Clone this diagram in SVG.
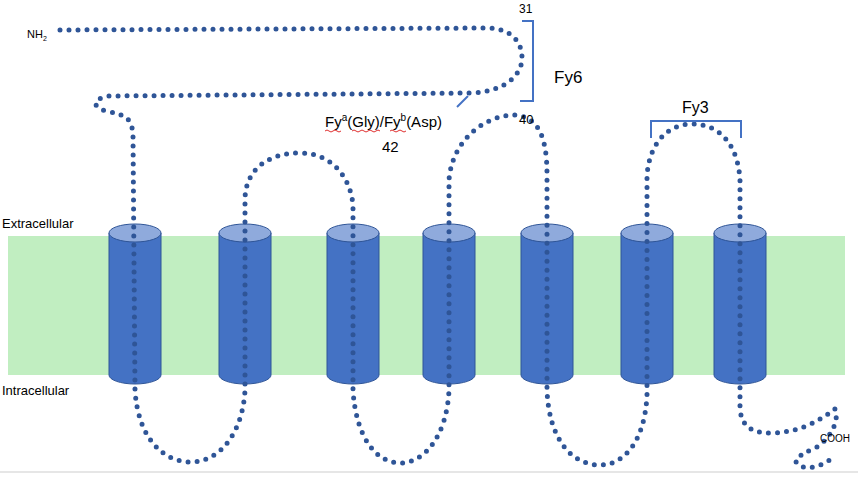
<svg xmlns="http://www.w3.org/2000/svg" width="858" height="477" viewBox="0 0 858 477">
<style>
.t{font-family:"Liberation Sans",Arial,sans-serif;fill:#000}
.chain{fill:none;stroke:#2f5597;stroke-width:5;stroke-linecap:round;stroke-dasharray:0 9}
.body{fill:#4472c4;stroke:#2f5597;stroke-width:1}
.top{fill:#8faadc;stroke:#2f5597;stroke-width:1}
.br{fill:none;stroke:#4472c4;stroke-width:2}
.sq{fill:none;stroke:#e03030;stroke-width:1}
</style>
<rect width="858" height="477" fill="#fff"/>
<rect x="8" y="236" width="837" height="139" fill="#c1eec1"/>
<line x1="0" y1="472" x2="858" y2="472" stroke="#e6e6e6" stroke-width="2"/>
<g id="cylinders">
<g id="tm1"><path class="body" d="M109 233V375A26 9 0 0 0 161 375V233Z"/><ellipse class="top" cx="135" cy="233" rx="26" ry="9"/></g>
<g id="tm2"><path class="body" d="M219 233V375A26 9 0 0 0 271 375V233Z"/><ellipse class="top" cx="245" cy="233" rx="26" ry="9"/></g>
<g id="tm3"><path class="body" d="M327 233V375A26 9 0 0 0 379 375V233Z"/><ellipse class="top" cx="353" cy="233" rx="26" ry="9"/></g>
<g id="tm4"><path class="body" d="M423 233V375A26 9 0 0 0 475 375V233Z"/><ellipse class="top" cx="449" cy="233" rx="26" ry="9"/></g>
<g id="tm5"><path class="body" d="M521 233V375A26 9 0 0 0 573 375V233Z"/><ellipse class="top" cx="547" cy="233" rx="26" ry="9"/></g>
<g id="tm6"><path class="body" d="M621 233V375A26 9 0 0 0 673 375V233Z"/><ellipse class="top" cx="647" cy="233" rx="26" ry="9"/></g>
<g id="tm7"><path class="body" d="M714 233V375A26 9 0 0 0 766 375V233Z"/><ellipse class="top" cx="740" cy="233" rx="26" ry="9"/></g>
</g>
<g id="connectors">
<path class="chain" d="M60 30 L490 28 C515 30 522 45 522 58 C522 75 505 92 470 93 L110 96 C92 98 90 108 110 112 C125 115 132 118 133 135 L135 390 C138 440 165 462 190 462 C222 462 243 430 245 390 L245 200 C245 168 270 153 300 153 C330 153 350 175 353 205 L353 390 C356 440 378 463 400 463 C425 463 447 435 449 390 L449 180 C452 140 485 115 515 115 C540 117 547 140 547 175 L547 390 C549 440 572 465 600 465 C625 465 645 440 647 395 L647 175 C650 140 670 124 692 124 C720 124 738 145 740 180 L740 410 C742 425 750 433 770 433 C800 433 820 420 835 409 C840 420 830 440 815 448 C800 455 790 460 800 466 C812 470 825 465 836 455"/>
<path class="br" d="M651 138V121H741V138"/>
<path class="br" d="M522 21H533V101H520"/>
<path class="br" d="M468 96L457 107"/>
</g>
<g id="labels">
<text class="t" x="27" y="38" font-size="11">NH<tspan font-size="7" dy="3">2</tspan></text>
<text class="t" x="519" y="13" font-size="12">31</text>
<text class="t" x="554" y="83" font-size="17">Fy6</text>
<text class="t" x="325" y="127" font-size="15">Fy<tspan font-size="10" dy="-6">a</tspan><tspan dy="6">(Gly)/Fy</tspan><tspan font-size="10" dy="-6">b</tspan><tspan dy="6">(Asp)</tspan></text>
<path class="sq" d="M325 131q2-2 4 0t4 0t4 0t4 0"/>
<path class="sq" d="M352 131q2-2 4 0t4 0t4 0t4 0t4 0t4 0t4 0"/>
<path class="sq" d="M390 131q2-2 4 0t4 0t4 0t4 0"/>
<text class="t" x="382" y="152" font-size="15">42</text>
<text class="t" x="519" y="124" font-size="13">40</text>
<text class="t" x="682" y="113" font-size="16">Fy3</text>
<text class="t" x="2" y="228" font-size="13">Extracellular</text>
<text class="t" x="2" y="395" font-size="13">Intracellular</text>
<text class="t" x="820" y="442" font-size="10">COOH</text>
</g>
</svg>
